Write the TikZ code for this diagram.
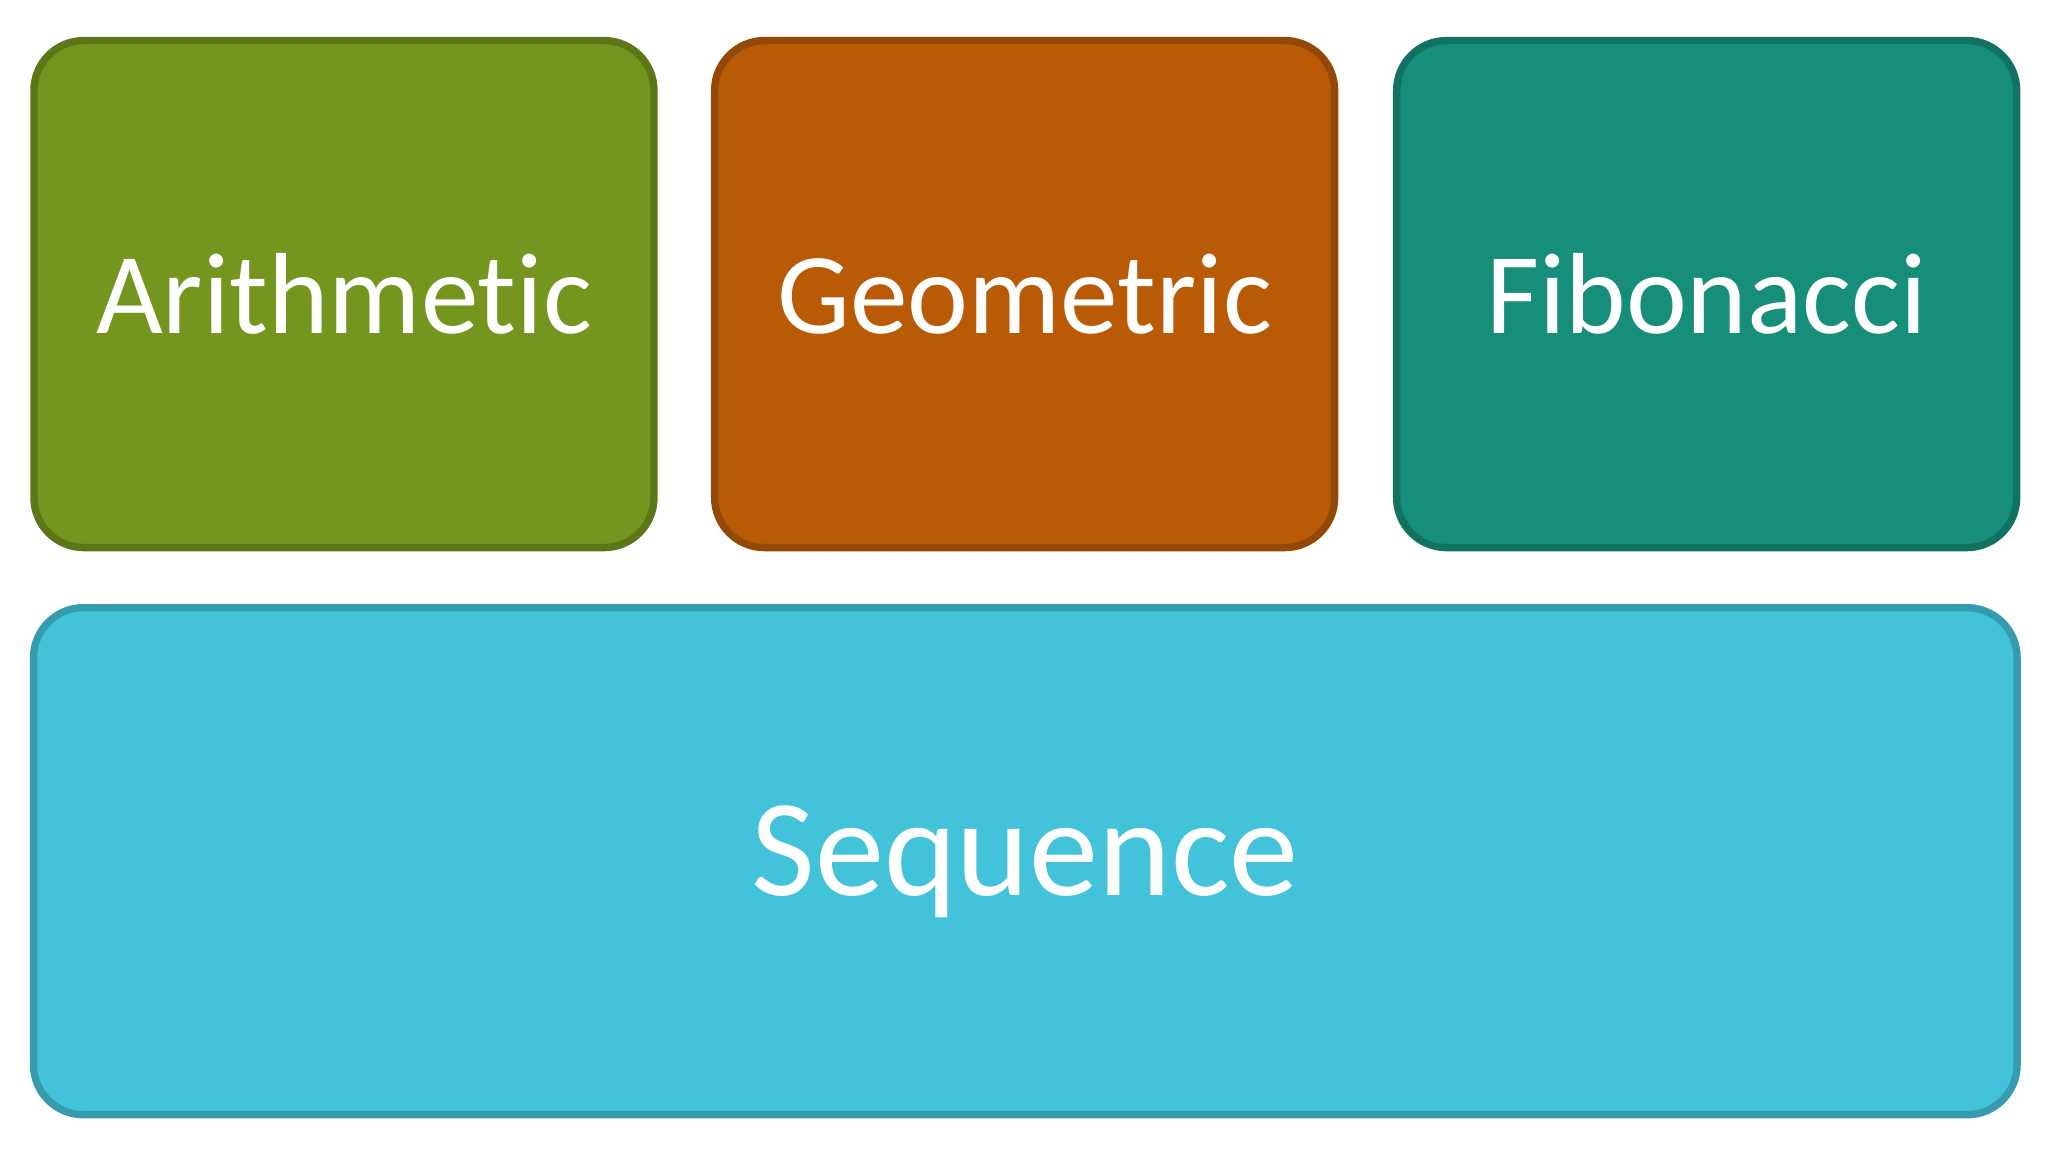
\documentclass[tikz,border=0pt]{standalone}
\usepackage{fontspec}
\setmainfont{Carlito}[Ligatures=NoCommon]
\definecolor{arithgreen}{HTML}{74951E}
\definecolor{geoorange}{HTML}{B95A06}
\definecolor{fibteal}{HTML}{168E7A}
\definecolor{seqcyan}{HTML}{42C3D9}
\begin{document}
\begin{tikzpicture}[x=0.01cm,y=0.01cm]
\tikzset{
  tile/.style={rounded corners=0.38cm, line width=1.6pt, inner sep=0pt,
    text=white, font=\fontsize{25}{30}\selectfont},
}
\useasboundingbox (0,0) rectangle (1560,877.5);
% upper row
\node[tile, fill=arithgreen, draw=arithgreen!80!black, minimum width=4.72cm, minimum height=3.86cm] (arith) at (262,653.5) {Arithmetic};
\node[tile, fill=geoorange, draw=geoorange!80!black, minimum width=4.72cm, minimum height=3.86cm] (geo) at (780.5,653.5) {Geometric};
\node[tile, fill=fibteal, draw=fibteal!80!black, minimum width=4.72cm, minimum height=3.86cm] (fib) at (1300,653.5) {Fibonacci};
% base
\node[tile, fill=seqcyan, draw=seqcyan!80!black, minimum width=15.1cm, minimum height=3.86cm, font=\fontsize{30}{36}\selectfont] (seq) at (781,221.5) {Sequence};
\end{tikzpicture}
\end{document}
